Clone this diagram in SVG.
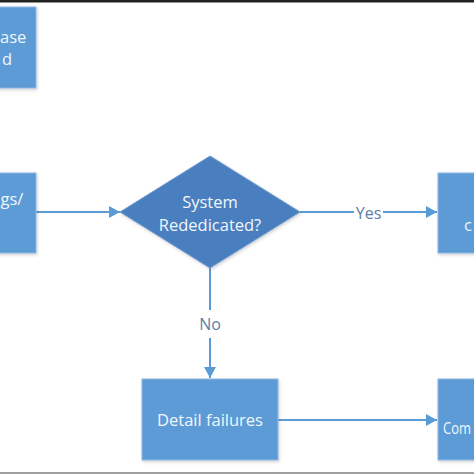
<svg xmlns="http://www.w3.org/2000/svg" width="474" height="474" viewBox="0 0 474 474">
<defs>
<marker id="ah" markerWidth="12" markerHeight="12" refX="11" refY="6" orient="auto" markerUnits="userSpaceOnUse">
<path d="M0,0 L11,6 L0,12 Z" fill="#5b9bd5"/>
</marker>
<filter id="sh" x="-10%" y="-10%" width="130%" height="130%">
<feDropShadow dx="1" dy="1.5" stdDeviation="1.5" flood-color="#000" flood-opacity="0.18"/>
</filter>
</defs>
<style>
.box{fill:#5b9bd5;stroke:#8fb6e3;stroke-width:1;filter:url(#sh)}
.dia{fill:#4a7fbf;stroke:#6f9bd0;stroke-width:1;filter:url(#sh)}
.t{font-family:"Open Sans","Liberation Sans",sans-serif;font-size:16.5px;fill:#f2f6fc}
.lbl{font-family:"Open Sans","Liberation Sans",sans-serif;font-size:16px;fill:#5a7ea8;text-anchor:middle}
.c{stroke:#5b9bd5;stroke-width:2;fill:none}
</style>
<rect x="0" y="0" width="474" height="474" fill="#ffffff"/>
<rect x="0" y="0" width="474" height="2.5" fill="#222222"/>
<rect x="0" y="472" width="474" height="2" fill="#a0a0a0"/>
<g id="connectors">
<line class="c" x1="36" y1="212" x2="120" y2="212" marker-end="url(#ah)"/>
<line class="c" x1="300" y1="212" x2="354" y2="212"/>
<line class="c" x1="383" y1="212" x2="437" y2="212" marker-end="url(#ah)"/>
<line class="c" x1="210" y1="268" x2="210" y2="310"/>
<line class="c" x1="210" y1="338" x2="210" y2="378" marker-end="url(#ah)"/>
<line class="c" x1="278" y1="420" x2="437" y2="420" marker-end="url(#ah)"/>
<text class="lbl" x="368.5" y="219">Yes</text>
<text class="lbl" x="210" y="330">No</text>
</g>
<g id="node-top-left">
<rect class="box" x="-10" y="7" width="46" height="81"/>
<text class="t" x="0" y="43">ase</text>
<text class="t" x="2" y="65">d</text>
</g>
<g id="node-mid-left">
<rect class="box" x="-10" y="173" width="46" height="80"/>
<text class="t" x="0.5" y="205">gs/</text>
</g>
<g id="node-decision">
<polygon class="dia" points="210,156 300,212 210,268 120,212"/>
<text class="t" x="210" y="208" text-anchor="middle">System</text>
<text class="t" x="210" y="231" text-anchor="middle">Rededicated?</text>
</g>
<g id="node-right">
<rect class="box" x="438" y="173" width="46" height="80"/>
<text class="t" x="464" y="231">c</text>
</g>
<g id="node-detail">
<rect class="box" x="142" y="379" width="136" height="81"/>
<text class="t" x="210" y="426" text-anchor="middle">Detail failures</text>
</g>
<g id="node-bottom-right">
<rect class="box" x="438" y="379" width="46" height="81"/>
<text class="t" x="443" y="434" textLength="28" lengthAdjust="spacingAndGlyphs">Com</text>
</g>
</svg>
